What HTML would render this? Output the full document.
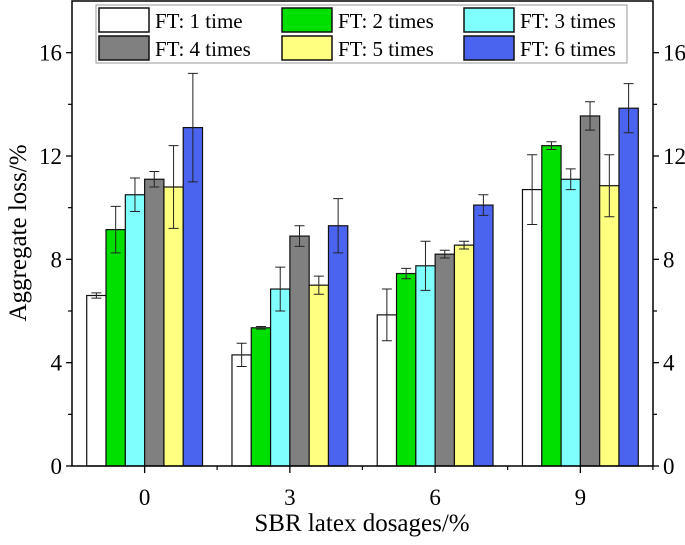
<!DOCTYPE html>
<html><head><meta charset="utf-8"><style>
body{margin:0;background:#fff}
svg text{font-family:"Liberation Serif",serif;fill:#000}
</style></head><body>
<svg id="chart" width="685" height="540" xmlns="http://www.w3.org/2000/svg"></svg>
<script>
const categories=["0","3","6","9"];
const seriesNames=["FT: 1 time","FT: 2 times","FT: 3 times","FT: 4 times","FT: 5 times","FT: 6 times"];
const colors=["#ffffff","#00e000","#80ffff","#808080","#ffff80","#4a64f0"];
const s1=[6.6,4.3,5.85,10.7];
const s2=[9.15,5.35,7.45,12.4];
const s3=[10.5,6.85,7.75,11.1];
const s4=[11.1,8.9,8.2,13.55];
const s5=[10.8,7.0,8.55,10.85];
const s6=[13.1,9.3,10.1,13.85];
const e1=[0.1,0.45,1.0,1.35];
const e2=[0.9,0.05,0.2,0.15];
const e3=[0.65,0.85,0.95,0.4];
const e4=[0.3,0.4,0.15,0.55];
const e5=[1.6,0.35,0.15,1.2];
const e6=[2.1,1.05,0.4,0.95];
const yTicks=[0,4,8,12,16];
const series=[s1,s2,s3,s4,s5,s6], errs=[e1,e2,e3,e4,e5,e6];
const L=72,R=653,T=1,B=466,yMax=18;
const x=i=>L+(i+0.5)*(R-L)/categories.length;
const y=v=>B-v*(B-T)/yMax;
const bw=19.3;
const svg=document.getElementById('chart');
const NS="http://www.w3.org/2000/svg";
function mk(t,a,p){const e=document.createElementNS(NS,t);for(const k in a)e.setAttribute(k,a[k]);(p||svg).appendChild(e);return e;}
series.forEach((s,si)=>{s.forEach((v,ci)=>{
 const bx=x(ci)-3*bw+si*bw;
 const r=mk('rect',{x:bx,y:y(v),width:bw,height:B-y(v),fill:colors[si],stroke:'#111','stroke-width':1.2});
 
 
 const cx=bx+bw/2,e=errs[si][ci];
 const g=mk('path',{d:`M${cx},${y(v+e)}V${y(v-e)}M${cx-5},${y(v+e)}H${cx+5}M${cx-5},${y(v-e)}H${cx+5}`,stroke:'#222','stroke-width':1,fill:'none'});
 
 
});});
const fr=mk('rect',{x:L,y:T,width:R-L,height:B-T,fill:'none',stroke:'#000','stroke-width':1.5});


yTicks.forEach(t=>{
 mk('line',{x1:L-6,x2:L,y1:y(t),y2:y(t),stroke:'#000','stroke-width':1.3});
 mk('line',{x1:R,x2:R+6,y1:y(t),y2:y(t),stroke:'#000','stroke-width':1.3});
 const a=mk('text',{x:L-10,y:y(t)+8,'text-anchor':'end','font-size':23});a.textContent=t;
 
 
 const b=mk('text',{x:R+10,y:y(t)+8,'text-anchor':'start','font-size':23});b.textContent=t;
 
 
 if(t<16){const m=t+2;
 mk('line',{x1:L-4,x2:L,y1:y(m),y2:y(m),stroke:'#000','stroke-width':1.2});
 mk('line',{x1:R,x2:R+4,y1:y(m),y2:y(m),stroke:'#000','stroke-width':1.2});}
});
categories.forEach((c,i)=>{
 mk('line',{x1:x(i),x2:x(i),y1:B,y2:B+7,stroke:'#000','stroke-width':1.3});
 mk('line',{x1:x(i)+72.5,x2:x(i)+72.5,y1:B,y2:B+4,stroke:'#000','stroke-width':1.2});
 const t=mk('text',{x:x(i),y:B+39,'text-anchor':'middle','font-size':23});t.textContent=c;
 
 
});
const xt=mk('text',{x:362,y:531,'text-anchor':'middle','font-size':25});xt.textContent='SBR latex dosages/%';


const yt=mk('text',{x:0,y:0,'text-anchor':'middle','font-size':25,transform:'translate(26,233) rotate(-90)'});yt.textContent='Aggregate loss/%';


const lg=mk('g',{});


mk('rect',{x:96,y:5,width:531,height:58,fill:'#fff',stroke:'#999','stroke-width':1},lg);
const colX=[99,282,464];
seriesNames.forEach((n,i)=>{
 const cx=colX[i%3],ry=i<3?8:36;
 const sw=mk('rect',{x:cx,y:ry,width:50,height:24,fill:colors[i],stroke:'#111','stroke-width':1.5},lg);
 
 
 const t=mk('text',{x:cx+56,y:ry+20,'font-size':21},lg);t.textContent=n;
 
 
});
</script>
</body></html>
